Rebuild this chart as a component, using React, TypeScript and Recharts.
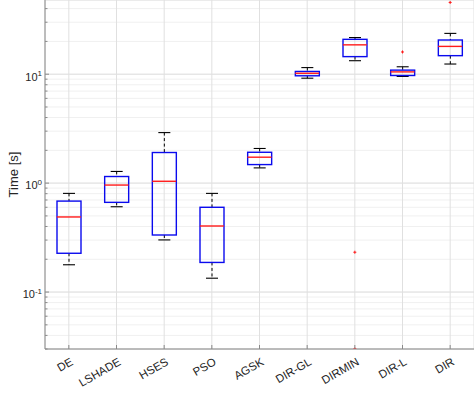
import { Bar, CartesianGrid, ComposedChart, Scatter, XAxis, YAxis } from "recharts";

document.body.style.margin = "0";

const FONT = "'Liberation Sans', Arial, Helvetica, sans-serif";
const BLUE = "#0a0aee";
const RED = "#ff1a1a";
const AXIS = "#8a8a8a";
const TEXT = "#262626";
const GRID_MINOR = "#f0f0f0";
const GRID_MAJOR = "#e0e0e0";

// Boxplot statistics (seconds)
const CATEGORIES = ["DE", "LSHADE", "HSES", "PSO", "AGSK", "DIR-GL", "DIRMIN", "DIR-L", "DIR"];
const WHISK_LO = [0.178, 0.607, 0.301, 0.134, 1.38, 9.19, 13.3, 9.53, 12.4];
const Q1 = [0.227, 0.666, 0.334, 0.187, 1.48, 9.67, 14.5, 9.73, 14.8];
const MEDIAN = [0.489, 0.96, 1.04, 0.404, 1.73, 10.2, 18.6, 10.5, 18.0];
const Q3 = [0.684, 1.15, 1.91, 0.6, 1.92, 10.6, 20.9, 10.9, 20.6];
const WHISK_HI = [0.805, 1.28, 2.91, 0.805, 2.08, 11.5, 21.7, 11.7, 23.7];
const OUTLIER_CATS = ["DIRMIN", "DIRMIN", "DIR-L", "DIR"];
const OUTLIER_VALS = [0.232, 0.03, 16.0, 45.6];

const Y_MAJOR = [0.1, 1, 10];
const Y_TICKS = [
  0.03, 0.04, 0.05, 0.06, 0.07, 0.08, 0.09, 0.1,
  0.2, 0.3, 0.4, 0.5, 0.6, 0.7, 0.8, 0.9, 1,
  2, 3, 4, 5, 6, 7, 8, 9, 10,
  20, 30, 40,
];

const rows = CATEGORIES.map((name, i) => {
  const outs = OUTLIER_VALS.filter((_, k) => OUTLIER_CATS[k] === name);
  return {
    name,
    lo: [WHISK_LO[i], Q1[i]],
    box: [Q1[i], Q3[i]],
    hi: [Q3[i], WHISK_HI[i]],
    med: MEDIAN[i],
    out1: outs[0],
    out2: outs[1],
  };
});

const norm = (p: any) => {
  const top = Math.min(p.y, p.y + p.height);
  return { top, h: Math.abs(p.height), cx: p.x + p.width / 2 };
};

const BoxShape = (p: any) => {
  const { top, h } = norm(p);
  return <rect x={p.x} y={top} width={p.width} height={h} fill="none" stroke={BLUE} strokeWidth={1.4} />;
};

const HiWhisker = (p: any) => {
  const { top, h, cx } = norm(p);
  return (
    <g>
      <line x1={cx} x2={cx} y1={top} y2={top + h} stroke="#000" strokeWidth={1} strokeDasharray="3 2.5" />
      <line x1={cx - 6} x2={cx + 6} y1={top} y2={top} stroke="#000" strokeWidth={1.1} />
    </g>
  );
};

const LoWhisker = (p: any) => {
  const { top, h, cx } = norm(p);
  return (
    <g>
      <line x1={cx} x2={cx} y1={top} y2={top + h} stroke="#000" strokeWidth={1} strokeDasharray="3 2.5" />
      <line x1={cx - 6} x2={cx + 6} y1={top + h} y2={top + h} stroke="#000" strokeWidth={1.1} />
    </g>
  );
};

const MedianShape = (p: any) => (
  <line x1={p.cx - 12} x2={p.cx + 12} y1={p.cy} y2={p.cy} stroke={RED} strokeWidth={1.4} />
);

const outlierShape = (key: string) => (p: any) => {
  if (p.payload?.[key] == null || !isFinite(p.cy)) return <g />;
  return (
    <g stroke={RED} strokeWidth={1}>
      <line x1={p.cx - 1.5} x2={p.cx + 1.5} y1={p.cy} y2={p.cy} />
      <line x1={p.cx} x2={p.cx} y1={p.cy - 1.5} y2={p.cy + 1.5} />
    </g>
  );
};

const XTick = ({ x, y, payload }: any) => {
  const ax = x + 1;
  const ay = y + 8;
  return (
    <g>
      <line x1={x} x2={x} y1={y} y2={y - 4} stroke={AXIS} />
      <text
        x={ax}
        y={ay}
        dy="0.71em"
        textAnchor="end"
        transform={`rotate(-30, ${ax}, ${ay})`}
        fontSize={11.5}
        fontFamily={FONT}
        fill={TEXT}
      >
        {payload.value}
      </text>
    </g>
  );
};

const YTick = ({ x, y, payload }: any) => {
  const v = payload.value;
  const major = Y_MAJOR.some((m) => Math.abs(m - v) < 1e-9);
  return (
    <g>
      <line x1={x} x2={x + (major ? 4 : 2.5)} y1={y} y2={y} stroke={AXIS} />
      {major && (
        <text x={x - 3} y={y + 6.3} textAnchor="end" fontSize={11} fontFamily={FONT} fill={TEXT}>
          10
          <tspan dy={-4.5} fontSize={8}>
            {Math.round(Math.log10(v))}
          </tspan>
        </text>
      )}
    </g>
  );
};

export default function App() {
  return (
    <ComposedChart width={474} height={394} data={rows} margin={{ top: 0, right: 0, bottom: 0, left: 0 }}>
      <CartesianGrid stroke={GRID_MINOR} vertical={false} />
      <CartesianGrid stroke={GRID_MAJOR} yAxisId="maj" />
      <XAxis
        dataKey="name"
        height={45}
        tickSize={0}
        tickMargin={0}
        tickLine={false}
        interval={0}
        stroke={AXIS}
        tick={<XTick />}
      />
      <XAxis xAxisId="lo" dataKey="name" hide />
      <XAxis xAxisId="box" dataKey="name" hide />
      <XAxis xAxisId="hi" dataKey="name" hide />
      <YAxis
        yAxisId="maj"
        scale="log"
        domain={[0.03, 48]}
        allowDataOverflow
        ticks={Y_MAJOR}
        interval={0}
        hide
      />
      <YAxis
        scale="log"
        domain={[0.03, 48]}
        allowDataOverflow
        ticks={Y_TICKS}
        interval={0}
        width={45}
        tickSize={0}
        tickMargin={0}
        tickLine={false}
        stroke={AXIS}
        tick={<YTick />}
        label={{
          value: "Time [s]",
          angle: -90,
          position: "insideLeft",
          offset: 13,
          style: { textAnchor: "middle", fontSize: 13, fill: TEXT, fontFamily: FONT },
        }}
      />
      <Bar xAxisId="lo" dataKey="lo" barSize={24} shape={<LoWhisker />} isAnimationActive={false} />
      <Bar xAxisId="hi" dataKey="hi" barSize={24} shape={<HiWhisker />} isAnimationActive={false} />
      <Bar xAxisId="box" dataKey="box" barSize={24} shape={<BoxShape />} isAnimationActive={false} />
      <Scatter dataKey="med" shape={<MedianShape />} isAnimationActive={false} />
      <Scatter dataKey="out1" shape={outlierShape("out1")} isAnimationActive={false} />
      <Scatter dataKey="out2" shape={outlierShape("out2")} isAnimationActive={false} />
    </ComposedChart>
  );
}
